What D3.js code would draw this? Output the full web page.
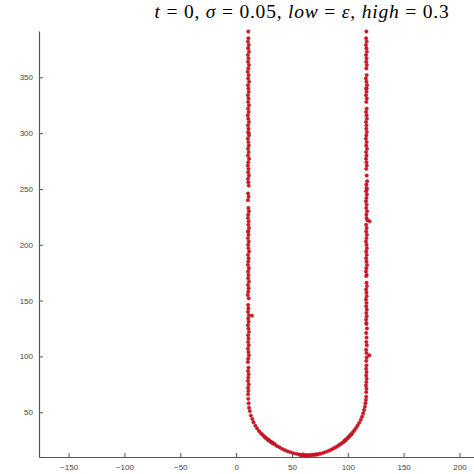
<!DOCTYPE html>
<html>
<head>
<meta charset="utf-8">
<script src="https://cdn.jsdelivr.net/npm/d3@7"></script>
<style>
  body { margin: 0; background: #fff; }
  svg { display: block; }
  .tick text { font-family: Arial, "Liberation Sans", sans-serif; font-size: 8px; fill: #444; }
  .title { font-family: "Liberation Serif", "DejaVu Serif", "Times New Roman", Times, serif; }
</style>
</head>
<body>
<svg id="chart" width="474" height="474"></svg>
<script>
// tick values on both axes
var xTicks = [-150, -100, -50, 0, 50, 100, 150, 200];
var yTicks = [50, 100, 150, 200, 250, 300, 350];

// left vertical edge [x, y]
var leftEdge = [
  [10.9,391],[11.0,385],[10.6,382],[11.3,379],[10.8,376],[11.5,373],[10.5,370],[11.1,367],[10.7,364],[11.4,361],
  [10.9,358],[10.4,355],[11.2,352],[10.8,349],[11.6,346],[10.6,343],[11.0,340],[11.3,337],[10.5,334],[11.1,331],
  [10.8,328],[11.5,325],[10.7,322],[11.2,319],[10.4,316],[10.9,313],[11.4,310],[10.6,307],[11.1,304],[10.8,301],
  [11.5,298],[10.5,295],[11.0,292],[11.3,289],[10.7,286],[11.2,283],[10.6,280],[11.6,277],[10.9,274],[10.5,271],
  [11.1,268],[10.8,265],[11.4,262],[10.6,259],[11.0,256],[11.3,253],[10.7,246],[11.2,243],[10.5,240],[11.0,233],
  [11.4,230],[10.8,227],[10.6,224],[11.2,221],[10.9,218],[11.5,215],[10.7,212],[11.1,209],[10.5,206],[11.3,203],
  [10.8,200],[11.0,197],[11.6,194],[10.6,191],[11.2,188],[10.9,185],[10.5,182],[11.4,179],[10.7,176],[11.1,173],
  [10.8,170],[11.5,167],[10.6,164],[11.2,161],[10.9,158],[10.4,155],[11.3,152],[10.8,146],[11.0,143],[10.6,140],
  [11.4,137],[14.2,136.5],[10.9,134],[11.2,131],[10.5,128],[11.0,125],[11.5,122],[10.7,119],[11.1,116],[10.8,113],
  [11.3,110],[10.6,107],[11.0,104],[11.4,101],[10.8,98],[10.5,95],[11.1,90],[10.7,87],[11.2,84],[10.9,81],
  [10.6,78],[11.3,75],[10.8,72],[11.0,69],[10.7,66]
];

// right vertical edge [x, y]
var rightEdge = [
  [116.6,391],[116.4,385],[116.9,382],[116.2,379],[116.7,376],[117.1,373],[116.3,370],[116.8,367],[116.5,364],[117.0,361],
  [116.6,358],[116.9,352],[116.2,349],[116.7,346],[117.2,343],[116.4,340],[116.8,337],[116.3,334],[117.0,331],[116.6,328],
  [116.9,322],[116.4,319],[116.8,316],[117.1,313],[116.3,310],[116.7,307],[116.5,304],[117.0,301],[116.6,298],[116.2,295],
  [116.9,292],[116.5,289],[117.2,286],[116.4,283],[116.8,280],[116.3,277],[116.7,274],[117.0,271],[116.5,268],[116.9,262],
  [117.3,257],[116.6,254],[116.8,251],[116.4,248],[117.1,245],[116.7,242],[116.3,239],[116.9,236],[116.5,233],[117.2,230],
  [116.6,227],[116.8,224],[117.6,222],[119.6,221],[116.4,218],[116.9,215],[116.5,212],[117.1,209],[116.7,206],[116.3,203],
  [116.8,200],[117.0,197],[116.5,194],[116.9,191],[116.4,188],[116.7,185],[117.2,182],[116.6,179],[116.3,176],[116.9,173],
  [116.5,172],[116.8,166],[117.1,163],[116.4,160],[116.7,157],[116.9,154],[116.3,151],[116.8,148],[116.5,145],[117.0,142],
  [116.6,139],[116.9,136],[116.4,133],[116.7,129],[117.1,125],[116.5,121],[116.8,117],[116.6,113],[117.0,110],[116.4,106],
  [116.7,103],[119.3,101],[116.9,99],[116.5,96],[116.7,92],[116.4,89],[116.8,86],[116.5,83],[116.9,80],[116.6,77],
  [116.3,74],[116.7,71],[116.5,68]
];

// bottom bend [x, y]
var bend = [
  [10.9,62],[11.2,58],[11.6,54],[12.3,51],[13.2,47],[14.5,44],[15.6,41],[17.2,38],[18.8,35.5],[20.6,33],
  [22.4,31],[24.0,29.5],[25.3,28],[26.5,27],[27.5,26.2],[28.6,25.3],[29.8,24.5],[31.0,23.5],[32.2,22.8],[33.4,22],
  [34.6,21.3],[36.5,19.8],[38.8,18.6],[41.2,17.2],[43.5,16.1],[46.0,15.1],[48.6,14.2],[51.3,13.3],[54.0,12.7],[56.4,12.2],
  [58.0,11.5],[59.5,12.0],[61.0,11.3],[62.4,11.8],[63.8,11.2],[65.2,11.7],[66.6,11.4],[68.0,12.0],[69.4,11.6],[70.8,12.2],
  [72.2,12.0],[73.6,12.6],[75.5,12.9],[78.0,13.6],[80.5,14.5],[83.0,15.5],[85.4,16.6],[87.6,17.7],[89.6,18.8],[91.4,20.0],
  [93.0,21.1],[94.5,22.2],[95.9,23.2],[97.2,24.4],[98.5,25.6],[99.8,26.8],[101.0,28.0],[102.2,29.3],[103.4,30.6],[104.6,32.2],
  [106.0,34.0],[107.5,36.0],[108.8,38.2],[110.2,40.5],[111.6,43.2],[112.8,46],[113.8,49],[114.6,52],[115.3,55],[115.8,58],
  [116.2,61],[116.5,64]
];

// the few olive points that peek out under the red ones
var olive = [
  [29.0,25.0],[31.5,23.2],[33.0,22.4],[97.8,25.0],[100.4,27.4],[102.8,29.9],
  [11.3,300],[10.7,212],[116.9,340],[117.1,250],[116.6,130],[60.0,11.9]
];

var svg = d3.select("#chart");

var x = d3.scaleLinear().domain([-176.5, 213]).range([39, 474]);
var y = d3.scaleLinear().domain([9.9, 391.5]).range([457, 31]);

// axes, ticks pointing inward like matlab
svg.append("g")
  .attr("transform", "translate(0,457)")
  .call(d3.axisBottom(x).tickValues(xTicks).tickSizeInner(-4).tickSizeOuter(0).tickPadding(7));
svg.append("g")
  .attr("transform", "translate(39,0)")
  .call(d3.axisLeft(y).tickValues(yTicks).tickSizeInner(-4).tickSizeOuter(0).tickPadding(6));

svg.selectAll(".domain").attr("stroke", "#555").attr("stroke-width", 1.2);
svg.selectAll(".tick line").attr("stroke", "#555");

// points
var dot = function(data, color) {
  svg.append("g").selectAll("circle")
    .data(data)
    .enter().append("circle")
    .attr("cx", function(d) { return x(d[0]); })
    .attr("cy", function(d) { return y(d[1]); })
    .attr("r", 1.7)
    .attr("fill", color)
    .attr("stroke", "#a3101c")
    .attr("stroke-width", 0.5);
};
dot(olive, "#8b5a1e");
dot(leftEdge, "#dd1424");
dot(rightEdge, "#dd1424");
dot(bend, "#dd1424");

// title with italic symbols
var title = svg.append("text")
  .attr("class", "title")
  .attr("x", 302).attr("y", 18)
  .attr("text-anchor", "middle")
  .attr("font-size", 19.5)
  .attr("letter-spacing", 0.8)
  .attr("fill", "#000");
var parts = [
  ["t", true], [" = 0, ", false], ["σ", true], [" = 0.05, ", false],
  ["low", true], [" = ", false], ["ε", true], [", ", false],
  ["high", true], [" = 0.3", false]
];
parts.forEach(function(p) {
  title.append("tspan").text(p[0]).attr("font-style", p[1] ? "italic" : "normal");
});
</script>
</body>
</html>
